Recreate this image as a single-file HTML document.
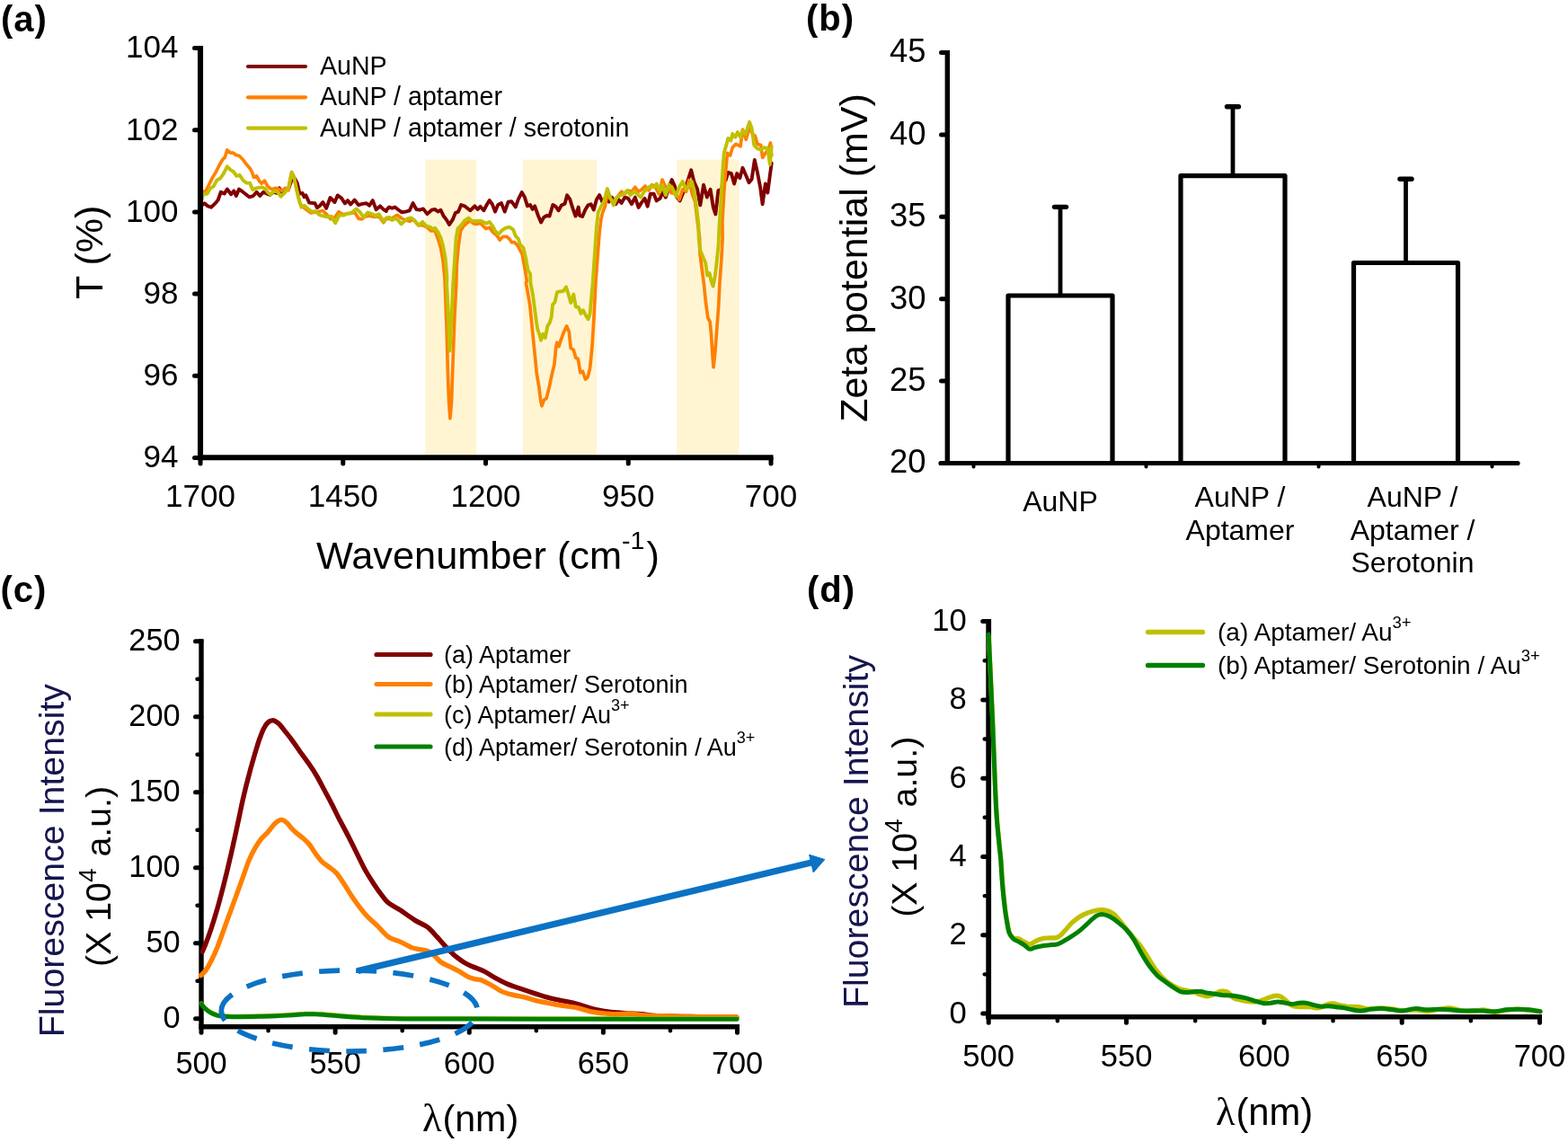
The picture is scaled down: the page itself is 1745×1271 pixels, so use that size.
<!DOCTYPE html>
<html lang="en">
<head>
<meta charset="utf-8">
<title>Figure</title>
<style>
html,body{margin:0;padding:0;background:#fff;}
body{width:1745px;height:1271px;overflow:hidden;}
svg{display:block;font-family:"Liberation Sans", Arial, Helvetica, sans-serif;}
</style>
</head>
<body>
<svg width="1745" height="1271" viewBox="0 0 1745 1271">
<rect x="0" y="0" width="1745" height="1271" fill="#ffffff"/>
<g id="panel-a">
<text x="1" y="34.5" font-size="40" text-anchor="start" font-weight="bold" fill="#000" letter-spacing="1">(a)</text>
<rect x="473.3" y="177.5" width="57.0" height="331" fill="#fff5d3"/>
<rect x="581.8" y="177.5" width="82.2" height="331" fill="#fff5d3"/>
<rect x="753.2" y="177.5" width="69.3" height="331" fill="#fff5d3"/>
<polyline points="223.2,229.4 227.6,226.3 231.3,229.4 235.1,230.7 240.2,225.6 242.7,222.5 245.8,213.7 249.6,215.6 252.8,210.5 257.2,216.2 260.3,212.4 262.9,218.1 266.0,210.5 270.4,213.7 273.6,216.2 277.4,219.3 281.8,218.1 285.6,213.7 289.3,218.1 293.1,213.7 296.9,215.6 300.7,216.8 304.5,213.7 308.3,214.9 310.8,209.3 313.9,213.7 318.3,211.8 321.5,209.3 325.3,197.9 328.4,199.2 330.9,204.2 333.5,215.6 336.6,214.9 338.5,219.3 340.4,217.4 344.2,225.6 350.5,226.3 353.0,231.3 356.2,228.8 359.3,225.0 363.1,231.9 367.5,220.0 372.5,225.0 375.7,217.4 380.1,220.6 383.9,226.3 387.0,223.1 390.2,227.5 394.6,222.5 399.0,228.2 403.4,226.9 407.8,226.3 411.0,228.8 414.8,223.1 418.6,233.2 423.0,229.4 426.8,233.2 429.9,235.1 430.0,233.7 433.2,230.5 436.3,231.8 439.5,230.5 442.6,233.0 447.0,236.2 451.4,235.6 455.8,234.3 459.6,226.1 463.4,233.0 467.2,233.7 471.0,232.4 475.4,238.1 480.4,233.7 484.2,233.0 487.4,235.6 490.5,233.7 493.7,240.6 496.8,244.4 500.0,250.1 503.8,244.4 506.9,236.8 510.1,235.6 513.2,228.0 517.0,229.3 520.1,231.8 523.3,234.3 528.3,229.3 531.5,233.0 534.6,229.9 538.4,234.3 541.6,228.0 544.7,223.0 547.9,227.4 551.0,235.6 554.2,228.0 558.0,226.1 561.7,235.6 565.5,224.8 569.3,224.2 573.7,230.5 576.9,221.7 580.7,214.1 583.8,219.2 587.0,229.3 590.1,228.0 592.6,233.0 595.2,229.3 598.9,240.0 602.1,247.5 605.2,241.9 608.4,240.0 611.5,240.6 615.3,228.0 618.5,229.9 621.6,234.3 624.8,228.6 628.6,226.7 631.1,217.3 634.2,221.7 637.4,231.8 640.5,240.6 643.7,230.5 645.0,239.8 648.2,241.0 651.3,233.5 654.5,228.4 657.6,227.2 660.8,233.5 663.9,222.1 667.1,217.1 670.2,224.6 673.4,220.9 677.8,224.6 680.9,219.6 685.3,227.2 688.5,222.1 691.6,225.9 695.4,219.6 699.2,220.9 703.0,227.2 706.8,219.6 710.6,230.9 713.7,225.9 717.5,220.9 720.6,229.7 723.8,215.8 727.6,215.8 730.7,223.4 734.5,220.9 737.7,213.3 740.8,219.6 744.6,208.3 747.7,200.1 750.9,207.0 753.4,219.6 756.6,223.4 759.7,215.8 762.9,208.3 766.0,199.4 769.2,189.3 772.3,201.9 776.1,210.8 779.3,228.4 783.0,205.7 786.8,219.6 790.6,210.8 793.8,230.9 796.3,238.5 799.4,212.0 802.6,210.8 805.1,203.2 807.6,200.7 810.2,191.9 813.9,193.1 817.1,204.5 820.2,193.1 823.4,198.2 826.5,186.8 830.3,195.6 833.5,203.2 836.6,199.4 839.8,178.0 842.9,191.9 846.1,208.3 848.6,227.2 851.8,204.5 854.3,214.6 856.8,195.6 858.7,181.8" fill="none" stroke="#800000" stroke-width="3.9" stroke-linejoin="round" stroke-linecap="round"/>
<polyline points="223.2,225.6 226.3,213.7 229.5,211.8 232.6,205.5 236.4,197.9 240.2,191.6 244.0,184.0 247.7,177.7 250.3,175.2 252.8,167.0 256.6,170.2 259.7,170.2 262.9,172.7 266.0,173.3 270.4,177.7 274.2,182.8 278.0,187.2 280.5,191.6 282.4,197.3 285.6,196.0 288.7,201.7 291.2,204.2 294.4,201.1 297.5,206.7 300.7,209.9 303.8,210.5 307.0,209.3 310.1,210.5 313.9,212.4 317.7,209.3 320.9,211.8 324.6,191.6 327.2,196.6 329.7,209.3 333.5,225.6 336.0,229.4 341.0,233.2 346.1,237.0 353.6,235.7 359.3,234.5 363.7,238.9 368.1,243.9 372.5,242.0 377.0,235.7 380.7,238.3 385.2,238.3 390.2,237.0 395.2,237.0 399.0,243.3 402.8,243.9 406.6,240.8 411.6,240.1 416.7,241.4 421.7,240.8 426.8,247.7 430.0,243.1 435.0,243.8 442.0,239.3 446.4,242.5 450.8,245.0 455.8,246.3 460.3,244.4 465.3,250.7 470.3,250.7 475.4,253.2 479.8,257.0 484.2,257.0 487.4,265.8 490.5,275.9 493.0,289.8 494.9,308.7 495.2,315.0 497.1,365.4 498.4,415.9 499.6,447.4 500.9,465.7 502.5,447.4 504.0,403.3 505.9,352.8 507.8,315.0 508.2,296.1 510.1,274.6 512.6,257.0 515.7,251.9 519.5,248.2 523.3,245.6 527.1,248.8 530.9,249.4 534.6,248.2 537.8,251.9 540.9,254.5 544.7,253.2 548.5,258.3 552.9,262.0 556.1,267.1 559.9,263.3 563.6,263.3 566.8,265.8 569.3,269.6 572.5,269.6 576.2,273.4 578.8,278.4 581.3,283.5 583.8,297.3 586.3,312.5 585.4,315.0 587.9,328.9 589.8,340.2 592.3,365.4 594.8,390.6 597.3,415.9 599.9,431.0 601.7,446.1 603.0,451.8 605.5,444.9 608.0,443.6 611.2,431.0 614.4,415.9 616.9,405.8 618.8,385.6 620.0,381.2 621.9,385.6 624.4,378.0 627.6,369.2 630.7,362.9 633.3,369.2 635.2,387.5 638.3,389.4 640.8,398.2 643.3,399.5 645.9,414.6 648.4,413.3 651.5,422.2 654.1,419.6 656.6,409.6 659.1,384.3 661.0,352.8 662.9,315.0 667.1,258.7 669.0,243.6 670.8,236.0 673.4,229.7 675.9,215.8 679.0,220.9 682.8,224.6 686.6,219.6 691.6,213.3 695.4,215.8 699.2,212.0 703.0,213.3 706.8,208.3 710.6,213.3 714.3,210.8 718.1,207.0 721.9,212.0 725.7,205.7 729.5,208.3 733.3,215.8 737.0,200.1 740.8,208.3 744.6,209.5 747.1,214.6 752.2,215.8 755.9,222.1 759.7,210.8 763.5,213.3 766.7,200.7 770.4,215.8 773.6,224.6 776.1,246.1 778.6,265.0 778.9,281.4 780.8,296.5 783.3,315.4 785.2,334.3 787.7,353.3 790.2,358.3 791.5,372.2 792.7,391.1 794.0,408.7 795.9,391.1 797.8,365.9 799.7,340.6 800.9,315.4 802.8,290.2 804.1,265.0 803.9,246.1 805.7,214.6 807.6,190.6 809.5,170.4 812.7,173.0 815.2,164.1 819.0,160.3 824.0,162.9 826.5,144.0 830.3,155.3 834.1,141.4 837.3,149.0 840.4,151.5 842.9,160.3 846.7,161.6 848.6,175.5 851.8,170.4 854.9,166.6 857.4,159.1 858.7,173.0" fill="none" stroke="#ff8000" stroke-width="3.7" stroke-linejoin="round" stroke-linecap="round"/>
<polyline points="223.2,225.6 226.3,216.2 230.7,215.6 233.9,209.9 237.7,207.4 241.4,200.4 245.2,198.5 249.0,192.9 252.8,185.3 256.6,189.1 259.7,191.0 263.5,196.0 266.6,194.8 270.4,200.4 274.2,203.6 278.0,203.6 281.1,211.1 285.6,209.3 289.3,208.6 292.5,208.6 295.6,210.5 298.2,214.3 301.3,216.8 304.5,213.0 308.3,213.0 312.7,218.7 317.1,214.3 320.9,209.3 324.6,192.2 327.2,197.9 330.3,211.8 332.8,222.5 335.4,230.7 338.5,228.8 342.9,232.6 347.3,235.7 351.1,235.1 354.9,238.9 358.7,240.1 363.7,241.4 368.8,240.8 373.2,248.3 377.6,239.5 382.6,239.5 386.4,237.6 390.2,237.6 396.5,232.6 400.3,235.7 404.7,242.0 409.1,236.4 414.2,238.3 417.9,240.1 421.7,238.3 426.8,246.4 430.0,242.5 433.8,241.9 436.3,245.0 440.1,243.1 443.2,245.0 446.4,249.4 450.8,245.6 454.0,243.1 457.7,242.5 461.5,245.6 465.9,250.7 470.3,246.9 474.1,251.3 478.5,252.6 481.7,255.1 484.2,253.8 487.4,258.3 490.5,264.6 493.0,273.4 495.6,287.2 497.4,308.7 497.1,315.0 499.0,352.8 500.5,390.6 502.5,352.8 504.3,315.0 505.6,296.1 507.5,265.8 509.4,254.5 513.2,250.7 517.0,245.6 521.4,242.5 524.6,245.6 529.6,246.3 534.0,245.6 537.8,246.9 540.9,248.8 544.7,246.9 548.5,251.9 551.0,257.0 554.8,260.8 558.6,256.4 562.4,253.8 566.8,252.6 571.2,255.7 573.7,262.7 576.9,265.8 578.8,272.1 582.5,275.9 585.1,287.2 587.6,301.1 590.1,304.9 590.4,315.0 592.9,327.6 595.4,346.5 598.0,365.4 600.5,373.0 602.1,378.7 604.3,371.7 606.8,376.1 609.3,362.9 611.8,359.1 613.7,352.8 615.0,339.0 617.5,336.4 620.0,325.1 623.2,324.5 627.0,323.8 630.1,319.4 632.6,327.6 635.2,337.1 638.3,327.6 640.8,341.5 644.0,342.1 646.5,349.0 649.0,345.3 652.2,351.6 654.7,355.3 656.6,349.0 658.5,327.6 659.7,315.0 663.9,252.4 665.8,236.0 669.0,229.7 672.1,224.6 675.9,210.1 679.0,219.6 682.8,228.4 686.6,219.6 691.6,217.1 695.4,214.6 698.0,212.0 701.7,217.1 705.5,213.3 709.3,215.8 713.1,219.6 716.9,213.3 720.6,209.5 724.4,207.0 728.2,208.3 730.7,204.5 734.5,213.3 737.0,205.7 740.8,217.1 744.6,205.7 748.4,209.5 752.2,218.3 755.9,208.3 759.7,201.9 763.5,210.8 767.3,207.0 769.8,201.9 772.3,210.8 774.9,228.4 777.4,249.9 777.6,265.0 778.9,277.6 782.0,285.2 785.2,292.7 787.1,306.6 789.6,304.1 791.5,312.9 793.6,318.6 795.9,306.6 797.8,290.2 799.7,271.3 800.1,258.7 802.0,227.2 803.9,195.6 805.7,170.4 808.3,161.6 810.2,154.0 813.3,156.6 815.2,149.0 818.3,152.8 820.9,147.1 824.0,152.8 826.5,145.2 829.7,149.0 834.1,135.8 836.6,142.7 839.2,161.6 842.9,165.4 846.7,166.6 850.5,164.1 854.3,165.4 856.8,183.0 858.7,162.9" fill="none" stroke="#c0c000" stroke-width="3.9" stroke-linejoin="round" stroke-linecap="round"/>
<line x1="223" y1="51.0" x2="223" y2="512.3" stroke="#000" stroke-width="6.1" stroke-linecap="butt"/>
<line x1="220" y1="509.3" x2="860.5" y2="509.3" stroke="#000" stroke-width="6.1" stroke-linecap="butt"/>
<line x1="216.5" y1="509.5" x2="223" y2="509.5" stroke="#000" stroke-width="5" stroke-linecap="round"/>
<text x="198.5" y="520.3" font-size="35" text-anchor="end" font-weight="normal" fill="#000">94</text>
<line x1="216.5" y1="418.3" x2="223" y2="418.3" stroke="#000" stroke-width="5" stroke-linecap="round"/>
<text x="198.5" y="429.1" font-size="35" text-anchor="end" font-weight="normal" fill="#000">96</text>
<line x1="216.5" y1="327.1" x2="223" y2="327.1" stroke="#000" stroke-width="5" stroke-linecap="round"/>
<text x="198.5" y="337.90000000000003" font-size="35" text-anchor="end" font-weight="normal" fill="#000">98</text>
<line x1="216.5" y1="235.90000000000003" x2="223" y2="235.90000000000003" stroke="#000" stroke-width="5" stroke-linecap="round"/>
<text x="198.5" y="246.70000000000005" font-size="35" text-anchor="end" font-weight="normal" fill="#000">100</text>
<line x1="216.5" y1="144.7" x2="223" y2="144.7" stroke="#000" stroke-width="5" stroke-linecap="round"/>
<text x="198.5" y="155.5" font-size="35" text-anchor="end" font-weight="normal" fill="#000">102</text>
<line x1="216.5" y1="53.5" x2="223" y2="53.5" stroke="#000" stroke-width="5" stroke-linecap="round"/>
<text x="198.5" y="64.3" font-size="35" text-anchor="end" font-weight="normal" fill="#000">104</text>
<line x1="223.0" y1="509.5" x2="223.0" y2="516.0" stroke="#000" stroke-width="5" stroke-linecap="round"/>
<text x="223.0" y="564" font-size="35" text-anchor="middle" font-weight="normal" fill="#000">1700</text>
<line x1="381.75" y1="509.5" x2="381.75" y2="516.0" stroke="#000" stroke-width="5" stroke-linecap="round"/>
<text x="381.75" y="564" font-size="35" text-anchor="middle" font-weight="normal" fill="#000">1450</text>
<line x1="540.5" y1="509.5" x2="540.5" y2="516.0" stroke="#000" stroke-width="5" stroke-linecap="round"/>
<text x="540.5" y="564" font-size="35" text-anchor="middle" font-weight="normal" fill="#000">1200</text>
<line x1="699.25" y1="509.5" x2="699.25" y2="516.0" stroke="#000" stroke-width="5" stroke-linecap="round"/>
<text x="699.25" y="564" font-size="35" text-anchor="middle" font-weight="normal" fill="#000">950</text>
<line x1="858.0" y1="509.5" x2="858.0" y2="516.0" stroke="#000" stroke-width="5" stroke-linecap="round"/>
<text x="858.0" y="564" font-size="35" text-anchor="middle" font-weight="normal" fill="#000">700</text>
<text x="113.7" y="333" font-size="43" text-anchor="start" font-weight="normal" fill="#000" transform="rotate(-90 113.7 333)">T (%)</text>
<text x="352" y="633" font-size="43.3">Wavenumber (cm<tspan dy="-22" font-size="28.5">-1</tspan><tspan dy="22" dx="2">)</tspan></text>
<line x1="276" y1="74.0" x2="340" y2="74.0" stroke="#800000" stroke-width="4.2" stroke-linecap="round"/>
<text x="356" y="83.0" font-size="28.6" text-anchor="start" font-weight="normal" fill="#000">AuNP</text>
<line x1="276" y1="108.3" x2="340" y2="108.3" stroke="#ff8000" stroke-width="4.2" stroke-linecap="round"/>
<text x="356" y="117.3" font-size="28.6" text-anchor="start" font-weight="normal" fill="#000">AuNP / aptamer</text>
<line x1="276" y1="142.6" x2="340" y2="142.6" stroke="#c0c000" stroke-width="4.2" stroke-linecap="round"/>
<text x="356" y="151.6" font-size="28.6" text-anchor="start" font-weight="normal" fill="#000">AuNP / aptamer / serotonin</text>
</g>
<g id="panel-b">
<text x="897" y="34" font-size="40" text-anchor="start" font-weight="bold" fill="#000" letter-spacing="1">(b)</text>
<line x1="1054.3" y1="56.0" x2="1054.3" y2="517.5" stroke="#000" stroke-width="5.4" stroke-linecap="butt"/>
<line x1="1047" y1="515.5" x2="1689" y2="515.5" stroke="#000" stroke-width="5.2" stroke-linecap="round"/>
<line x1="1047.5" y1="515.5" x2="1054" y2="515.5" stroke="#000" stroke-width="5" stroke-linecap="round"/>
<text x="1030.4" y="526.3" font-size="36.4" text-anchor="end" font-weight="normal" fill="#000">20</text>
<line x1="1047.5" y1="424.1" x2="1054" y2="424.1" stroke="#000" stroke-width="5" stroke-linecap="round"/>
<text x="1030.4" y="434.90000000000003" font-size="36.4" text-anchor="end" font-weight="normal" fill="#000">25</text>
<line x1="1047.5" y1="332.7" x2="1054" y2="332.7" stroke="#000" stroke-width="5" stroke-linecap="round"/>
<text x="1030.4" y="343.5" font-size="36.4" text-anchor="end" font-weight="normal" fill="#000">30</text>
<line x1="1047.5" y1="241.3" x2="1054" y2="241.3" stroke="#000" stroke-width="5" stroke-linecap="round"/>
<text x="1030.4" y="252.10000000000002" font-size="36.4" text-anchor="end" font-weight="normal" fill="#000">35</text>
<line x1="1047.5" y1="149.89999999999998" x2="1054" y2="149.89999999999998" stroke="#000" stroke-width="5" stroke-linecap="round"/>
<text x="1030.4" y="160.7" font-size="36.4" text-anchor="end" font-weight="normal" fill="#000">40</text>
<line x1="1047.5" y1="58.5" x2="1054" y2="58.5" stroke="#000" stroke-width="5" stroke-linecap="round"/>
<text x="1030.4" y="69.3" font-size="36.4" text-anchor="end" font-weight="normal" fill="#000">45</text>
<line x1="1083.5" y1="515.5" x2="1083.5" y2="519.5" stroke="#000" stroke-width="4" stroke-linecap="round"/>
<line x1="1275.5" y1="515.5" x2="1275.5" y2="519.5" stroke="#000" stroke-width="4" stroke-linecap="round"/>
<line x1="1467.5" y1="515.5" x2="1467.5" y2="519.5" stroke="#000" stroke-width="4" stroke-linecap="round"/>
<line x1="1660.5" y1="515.5" x2="1660.5" y2="519.5" stroke="#000" stroke-width="4" stroke-linecap="round"/>
<rect x="1122" y="329.0" width="116" height="186.5" fill="#fff" stroke="#000" stroke-width="5.2" stroke-linejoin="round"/>
<line x1="1180" y1="329.044" x2="1180" y2="230.33199999999994" stroke="#000" stroke-width="4.8" stroke-linecap="butt"/>
<line x1="1173.5" y1="230.33199999999994" x2="1186.5" y2="230.33199999999994" stroke="#000" stroke-width="5.4" stroke-linecap="round"/>
<rect x="1314" y="195.6" width="116" height="319.9" fill="#fff" stroke="#000" stroke-width="5.2" stroke-linejoin="round"/>
<line x1="1372" y1="195.60000000000002" x2="1372" y2="118.82399999999996" stroke="#000" stroke-width="4.8" stroke-linecap="butt"/>
<line x1="1365.5" y1="118.82399999999996" x2="1378.5" y2="118.82399999999996" stroke="#000" stroke-width="5.4" stroke-linecap="round"/>
<rect x="1506.5" y="292.5" width="116" height="223.0" fill="#fff" stroke="#000" stroke-width="5.2" stroke-linejoin="round"/>
<line x1="1564.5" y1="292.4839999999999" x2="1564.5" y2="199.25600000000009" stroke="#000" stroke-width="4.8" stroke-linecap="butt"/>
<line x1="1558.0" y1="199.25600000000009" x2="1571.0" y2="199.25600000000009" stroke="#000" stroke-width="5.4" stroke-linecap="round"/>
<text x="1180" y="569" font-size="32" text-anchor="middle" font-weight="normal" fill="#000">AuNP</text>
<text x="1380" y="564" font-size="32" text-anchor="middle" font-weight="normal" fill="#000">AuNP /</text>
<text x="1380" y="600.5" font-size="32" text-anchor="middle" font-weight="normal" fill="#000">Aptamer</text>
<text x="1572" y="564" font-size="32" text-anchor="middle" font-weight="normal" fill="#000">AuNP /</text>
<text x="1572" y="600.5" font-size="32" text-anchor="middle" font-weight="normal" fill="#000">Aptamer /</text>
<text x="1572" y="637" font-size="32" text-anchor="middle" font-weight="normal" fill="#000">Serotonin</text>
<text x="965" y="287" font-size="43" text-anchor="middle" font-weight="normal" fill="#000" transform="rotate(-90 965 287)">Zeta potential (mV)</text>
</g>
<g id="panel-c">
<text x="0.5" y="670" font-size="40" text-anchor="start" font-weight="bold" fill="#000" letter-spacing="1">(c)</text>
<line x1="224" y1="711.3" x2="224" y2="1145.2" stroke="#000" stroke-width="5.4" stroke-linecap="butt"/>
<line x1="221.5" y1="1142.7" x2="823.0" y2="1142.7" stroke="#000" stroke-width="5.4" stroke-linecap="butt"/>
<line x1="217.5" y1="1133.7" x2="224" y2="1133.7" stroke="#000" stroke-width="5" stroke-linecap="round"/>
<text x="200.6" y="1144.3" font-size="34.3" text-anchor="end" font-weight="normal" fill="#000">0</text>
<line x1="219.5" y1="1091.71" x2="224" y2="1091.71" stroke="#000" stroke-width="4.4" stroke-linecap="round"/>
<line x1="217.5" y1="1049.72" x2="224" y2="1049.72" stroke="#000" stroke-width="5" stroke-linecap="round"/>
<text x="200.6" y="1060.32" font-size="34.3" text-anchor="end" font-weight="normal" fill="#000">50</text>
<line x1="219.5" y1="1007.73" x2="224" y2="1007.73" stroke="#000" stroke-width="4.4" stroke-linecap="round"/>
<line x1="217.5" y1="965.74" x2="224" y2="965.74" stroke="#000" stroke-width="5" stroke-linecap="round"/>
<text x="200.6" y="976.34" font-size="34.3" text-anchor="end" font-weight="normal" fill="#000">100</text>
<line x1="219.5" y1="923.75" x2="224" y2="923.75" stroke="#000" stroke-width="4.4" stroke-linecap="round"/>
<line x1="217.5" y1="881.76" x2="224" y2="881.76" stroke="#000" stroke-width="5" stroke-linecap="round"/>
<text x="200.6" y="892.36" font-size="34.3" text-anchor="end" font-weight="normal" fill="#000">150</text>
<line x1="219.5" y1="839.77" x2="224" y2="839.77" stroke="#000" stroke-width="4.4" stroke-linecap="round"/>
<line x1="217.5" y1="797.78" x2="224" y2="797.78" stroke="#000" stroke-width="5" stroke-linecap="round"/>
<text x="200.6" y="808.38" font-size="34.3" text-anchor="end" font-weight="normal" fill="#000">200</text>
<line x1="219.5" y1="755.79" x2="224" y2="755.79" stroke="#000" stroke-width="4.4" stroke-linecap="round"/>
<line x1="217.5" y1="713.8" x2="224" y2="713.8" stroke="#000" stroke-width="5" stroke-linecap="round"/>
<text x="200.6" y="724.4" font-size="34.3" text-anchor="end" font-weight="normal" fill="#000">250</text>
<line x1="224.0" y1="1142.7" x2="224.0" y2="1149.2" stroke="#000" stroke-width="5" stroke-linecap="round"/>
<text x="224.0" y="1195" font-size="34.3" text-anchor="middle" font-weight="normal" fill="#000">500</text>
<line x1="298.5625" y1="1142.7" x2="298.5625" y2="1147.2" stroke="#000" stroke-width="4.4" stroke-linecap="round"/>
<line x1="373.125" y1="1142.7" x2="373.125" y2="1149.2" stroke="#000" stroke-width="5" stroke-linecap="round"/>
<text x="373.125" y="1195" font-size="34.3" text-anchor="middle" font-weight="normal" fill="#000">550</text>
<line x1="447.6875" y1="1142.7" x2="447.6875" y2="1147.2" stroke="#000" stroke-width="4.4" stroke-linecap="round"/>
<line x1="522.25" y1="1142.7" x2="522.25" y2="1149.2" stroke="#000" stroke-width="5" stroke-linecap="round"/>
<text x="522.25" y="1195" font-size="34.3" text-anchor="middle" font-weight="normal" fill="#000">600</text>
<line x1="596.8125" y1="1142.7" x2="596.8125" y2="1147.2" stroke="#000" stroke-width="4.4" stroke-linecap="round"/>
<line x1="671.375" y1="1142.7" x2="671.375" y2="1149.2" stroke="#000" stroke-width="5" stroke-linecap="round"/>
<text x="671.375" y="1195" font-size="34.3" text-anchor="middle" font-weight="normal" fill="#000">650</text>
<line x1="745.9375" y1="1142.7" x2="745.9375" y2="1147.2" stroke="#000" stroke-width="4.4" stroke-linecap="round"/>
<line x1="820.5" y1="1142.7" x2="820.5" y2="1149.2" stroke="#000" stroke-width="5" stroke-linecap="round"/>
<text x="820.5" y="1195" font-size="34.3" text-anchor="middle" font-weight="normal" fill="#000">700</text>
<path d="M225.2,1059.3C225.4,1058.8 225.9,1057.6 226.3,1056.7C226.7,1055.8 227.1,1055.0 227.4,1054.0C227.8,1053.1 228.2,1052.2 228.6,1051.3C228.9,1050.3 229.3,1049.4 229.7,1048.4C230.1,1047.4 230.4,1046.4 230.8,1045.4C231.2,1044.4 231.6,1043.4 231.9,1042.4C232.3,1041.3 232.7,1040.3 233.1,1039.2C233.4,1038.1 233.8,1037.0 234.2,1035.9C234.6,1034.8 234.9,1033.7 235.3,1032.6C235.7,1031.4 236.1,1030.3 236.4,1029.1C236.8,1027.9 237.2,1026.8 237.6,1025.6C237.9,1024.4 238.3,1023.1 238.7,1021.9C239.1,1020.7 239.4,1019.4 239.8,1018.2C240.2,1016.9 240.6,1015.7 240.9,1014.4C241.3,1013.1 241.7,1011.8 242.1,1010.5C242.4,1009.1 242.8,1007.8 243.2,1006.5C243.5,1005.1 243.9,1003.8 244.3,1002.4C244.7,1001.0 245.0,999.7 245.4,998.3C245.8,996.9 246.2,995.5 246.5,994.0C246.9,992.6 247.3,991.2 247.7,989.7C248.0,988.3 248.4,986.8 248.8,985.3C249.2,983.9 249.5,982.4 249.9,980.9C250.3,979.4 250.7,977.9 251.0,976.4C251.4,974.8 251.8,973.3 252.2,971.8C252.5,970.2 252.9,968.7 253.3,967.1C253.7,965.5 254.0,963.9 254.4,962.3C254.8,960.8 255.2,959.2 255.5,957.5C255.9,955.9 256.3,954.3 256.7,952.7C257.0,951.0 257.4,949.4 257.8,947.7C258.2,946.1 258.5,944.4 258.9,942.8C259.3,941.1 259.7,939.4 260.0,937.7C260.4,936.0 260.8,934.3 261.2,932.6C261.5,930.9 261.9,929.2 262.3,927.4C262.7,925.7 263.0,924.0 263.4,922.2C263.8,920.5 264.2,918.7 264.5,916.9C264.9,915.2 265.3,913.4 265.7,911.6C266.0,909.9 266.4,908.1 266.8,906.3C267.1,904.5 267.5,902.7 267.9,901.0C268.3,899.2 268.6,897.5 269.0,895.7C269.4,894.0 269.8,892.3 270.1,890.6C270.5,889.0 270.9,887.3 271.3,885.7C271.6,884.1 272.0,882.5 272.4,880.9C272.8,879.4 273.1,877.8 273.5,876.3C273.9,874.8 274.3,873.3 274.6,871.8C275.0,870.4 275.4,868.9 275.8,867.5C276.1,866.0 276.5,864.6 276.9,863.2C277.3,861.8 277.6,860.4 278.0,859.0C278.4,857.6 278.8,856.2 279.1,854.8C279.5,853.5 279.9,852.1 280.3,850.8C280.6,849.4 281.0,848.1 281.4,846.8C281.8,845.5 282.1,844.2 282.5,842.9C282.9,841.6 283.3,840.3 283.6,839.0C284.0,837.7 284.4,836.5 284.8,835.2C285.1,834.0 285.5,832.7 285.9,831.5C286.3,830.3 286.6,829.1 287.0,828.0C287.4,826.8 287.8,825.6 288.1,824.5C288.5,823.4 288.9,822.3 289.3,821.3C289.6,820.2 290.0,819.2 290.4,818.2C290.8,817.2 291.1,816.3 291.5,815.4C291.9,814.5 292.2,813.6 292.6,812.8C293.0,812.0 293.4,811.2 293.7,810.5C294.1,809.8 294.5,809.1 294.9,808.5C295.2,807.9 295.6,807.3 296.0,806.8C296.4,806.2 296.7,805.8 297.1,805.3C297.5,804.9 297.9,804.5 298.2,804.1C298.6,803.8 299.0,803.5 299.4,803.2C299.7,803.0 300.1,802.7 300.5,802.5C300.9,802.4 301.2,802.2 301.6,802.1C302.0,802.0 302.4,801.9 302.7,801.9C303.1,801.8 303.5,801.8 303.9,801.8C304.2,801.8 303.9,801.4 305.0,802.0C306.0,802.5 308.2,803.4 310.1,805.2C312.0,807.0 313.9,809.6 316.4,812.8C318.9,815.9 322.3,820.1 325.2,824.1C328.2,828.1 330.9,832.3 334.0,836.7C337.2,841.1 341.0,846.0 344.1,850.6C347.3,855.2 350.1,859.6 353.0,864.5C355.8,869.4 358.6,875.0 361.3,880.0C364.0,885.0 366.1,888.7 368.9,894.2C371.7,899.7 375.1,907.0 378.3,913.1C381.5,919.2 384.7,924.9 387.8,931.0C390.9,937.1 394.1,943.6 397.2,949.9C400.3,956.2 403.5,963.1 406.7,968.8C409.9,974.5 413.0,979.2 416.1,983.9C419.2,988.6 422.7,993.5 425.5,997.1C428.3,1000.7 429.3,1002.6 432.6,1005.2C435.9,1007.8 440.4,1009.6 445.2,1012.8C450.0,1015.9 456.6,1021.0 461.6,1024.1C466.6,1027.3 471.5,1028.7 475.5,1031.7C479.5,1034.6 482.2,1038.2 485.6,1041.8C488.9,1045.3 492.3,1049.5 495.6,1053.1C499.0,1056.7 502.4,1060.3 505.7,1063.2C509.1,1066.1 512.5,1068.7 515.8,1070.8C519.2,1072.9 522.1,1074.1 525.9,1075.8C529.7,1077.5 534.3,1078.8 538.5,1080.9C542.7,1083.0 546.9,1086.1 551.1,1088.4C555.3,1090.7 559.3,1092.8 563.7,1094.7C568.1,1096.6 572.1,1097.9 577.6,1099.8C583.1,1101.7 590.2,1104.1 596.5,1106.1C602.8,1108.1 608.2,1110.0 615.4,1111.7C622.7,1113.5 632.8,1115.0 640.0,1116.8C647.2,1118.6 653.4,1121.3 658.9,1122.7C664.3,1124.1 668.1,1124.6 672.7,1125.3C677.3,1126.0 681.9,1126.6 686.6,1127.0C691.2,1127.5 695.8,1127.6 700.4,1127.9C705.0,1128.2 709.6,1128.3 714.3,1128.8C718.9,1129.2 723.2,1130.1 728.1,1130.5C733.0,1130.9 738.2,1130.9 743.7,1131.0C749.2,1131.2 755.2,1131.3 761.0,1131.4C766.8,1131.5 772.5,1131.6 778.3,1131.7C784.1,1131.8 788.7,1131.8 795.6,1131.9C802.5,1132.0 815.8,1132.2 819.8,1132.2" fill="none" stroke="#800000" stroke-width="5.4" stroke-linejoin="round" stroke-linecap="round"/>
<path d="M223.5,1085.6C224.3,1084.7 226.6,1083.3 228.7,1080.4C230.7,1077.5 233.3,1072.9 235.6,1068.3C237.9,1063.7 240.2,1058.5 242.5,1052.7C244.8,1046.9 247.1,1040.0 249.4,1033.7C251.7,1027.3 254.0,1021.0 256.4,1014.6C258.7,1008.3 261.0,1001.9 263.3,995.6C265.6,989.2 267.9,982.9 270.2,976.6C272.5,970.2 274.8,963.0 277.1,957.5C279.4,952.0 281.7,947.7 284.0,943.7C286.4,939.6 288.7,936.2 291.0,933.3C293.3,930.4 295.6,928.9 297.9,926.4C300.2,923.8 302.8,919.9 304.8,917.7C306.8,915.5 308.4,914.2 310.0,913.4C311.6,912.5 312.8,912.1 314.3,912.5C315.9,912.9 317.9,914.5 319.5,916.0C321.1,917.4 322.3,919.4 323.9,921.2C325.4,922.9 326.7,924.3 329.1,926.4C331.4,928.4 335.1,931.0 337.7,933.3C340.3,935.6 342.3,937.3 344.6,940.2C346.9,943.1 349.2,947.4 351.6,950.6C353.9,953.8 356.2,956.9 358.5,959.2C360.8,961.5 362.8,962.4 365.4,964.4C368.0,966.5 371.2,968.2 374.1,971.4C376.9,974.5 379.8,979.1 382.7,983.5C385.6,987.8 388.5,993.0 391.4,997.3C394.3,1001.6 397.1,1005.7 400.0,1009.4C402.9,1013.2 405.3,1016.3 408.7,1019.8C412.0,1023.3 416.0,1026.6 420.0,1030.4C424.0,1034.3 428.4,1040.1 432.6,1043.0C436.8,1046.0 441.0,1046.2 445.2,1048.1C449.4,1050.0 454.5,1053.0 457.8,1054.4C461.2,1055.7 462.4,1055.6 465.4,1056.3C468.3,1056.9 472.5,1057.0 475.5,1058.2C478.4,1059.3 480.5,1061.1 483.0,1063.2C485.6,1065.3 487.7,1068.7 490.6,1070.8C493.5,1072.9 497.3,1074.1 500.7,1075.8C504.0,1077.5 507.4,1079.0 510.8,1080.9C514.1,1082.7 517.9,1085.7 520.9,1087.2C523.8,1088.6 525.9,1089.1 528.4,1089.7C530.9,1090.3 533.0,1089.9 536.0,1090.9C538.9,1092.0 542.3,1093.9 546.1,1096.0C549.9,1098.1 554.5,1101.7 558.7,1103.6C562.9,1105.4 567.1,1106.3 571.3,1107.3C575.5,1108.4 579.7,1108.8 583.9,1109.9C588.1,1110.9 592.3,1112.6 596.5,1113.6C600.7,1114.7 604.9,1115.3 609.1,1116.2C613.3,1117.0 616.6,1117.8 621.7,1118.7C626.9,1119.5 633.8,1120.0 640.0,1121.2C646.2,1122.4 653.4,1125.1 658.9,1126.2C664.3,1127.3 668.1,1127.5 672.7,1127.9C677.3,1128.3 681.9,1128.8 686.6,1128.8C691.2,1128.8 695.8,1127.8 700.4,1127.9C705.0,1128.1 709.6,1129.2 714.3,1129.6C718.9,1130.1 723.2,1130.3 728.1,1130.5C733.0,1130.7 738.2,1130.9 743.7,1131.0C749.2,1131.2 755.2,1131.3 761.0,1131.4C766.8,1131.5 772.5,1131.7 778.3,1131.7C784.1,1131.8 788.7,1131.7 795.6,1131.7C802.5,1131.7 815.8,1131.9 819.8,1131.9" fill="none" stroke="#ff8000" stroke-width="5.4" stroke-linejoin="round" stroke-linecap="round"/>
<path d="M224.0,1116.7C224.6,1117.5 226.1,1119.6 227.7,1121.2C229.4,1122.7 231.7,1124.8 234.0,1126.2C236.4,1127.6 238.9,1128.6 241.6,1129.4C244.3,1130.1 246.9,1130.3 250.4,1130.6C254.0,1130.9 256.7,1131.0 263.0,1131.0C269.3,1131.0 280.9,1130.8 288.3,1130.6C295.6,1130.4 300.9,1130.3 307.2,1130.0C313.5,1129.7 320.8,1129.3 326.1,1129.0C331.3,1128.7 334.5,1128.2 338.7,1128.1C342.9,1127.9 347.1,1127.9 351.3,1128.1C355.5,1128.2 359.7,1128.7 363.9,1129.0C368.1,1129.3 372.3,1129.6 376.5,1130.0C380.7,1130.3 384.9,1130.7 389.1,1131.0C393.3,1131.3 396.6,1131.6 401.7,1131.9C406.9,1132.1 411.9,1132.3 420.0,1132.5C428.0,1132.7 433.3,1133.2 450.0,1133.3C466.7,1133.4 495.0,1133.2 520.0,1133.3C545.0,1133.3 570.0,1133.5 600.0,1133.6C630.0,1133.6 673.3,1133.6 700.0,1133.6C726.7,1133.6 740.0,1133.6 760.0,1133.6C780.0,1133.6 810.0,1133.6 820.0,1133.6" fill="none" stroke="#c0c000" stroke-width="4.6" stroke-linejoin="round" stroke-linecap="round"/>
<path d="M224.0,1117.4C224.6,1118.2 226.1,1120.3 227.7,1121.9C229.4,1123.4 231.7,1125.5 234.0,1126.9C236.4,1128.3 238.9,1129.3 241.6,1130.1C244.3,1130.8 246.9,1131.0 250.4,1131.3C254.0,1131.6 256.7,1131.7 263.0,1131.7C269.3,1131.7 280.9,1131.5 288.3,1131.3C295.6,1131.1 300.9,1131.0 307.2,1130.7C313.5,1130.4 320.8,1130.0 326.1,1129.7C331.3,1129.4 334.5,1128.9 338.7,1128.8C342.9,1128.6 347.1,1128.6 351.3,1128.8C355.5,1128.9 359.7,1129.4 363.9,1129.7C368.1,1130.0 372.3,1130.3 376.5,1130.7C380.7,1131.0 384.9,1131.4 389.1,1131.7C393.3,1132.0 396.6,1132.3 401.7,1132.6C406.9,1132.8 411.9,1133.0 420.0,1133.2C428.0,1133.4 433.3,1133.9 450.0,1134.0C466.7,1134.1 495.0,1134.0 520.0,1134.0C545.0,1134.0 570.0,1134.2 600.0,1134.3C630.0,1134.3 673.3,1134.3 700.0,1134.3C726.7,1134.3 740.0,1134.3 760.0,1134.3C780.0,1134.3 810.0,1134.3 820.0,1134.3" fill="none" stroke="#008000" stroke-width="5" stroke-linejoin="round" stroke-linecap="round"/>
<text x="71" y="957.6" font-size="39.3" text-anchor="middle" font-weight="normal" fill="#15154f" transform="rotate(-90 71 957.6)">Fluorescence Intensity</text>
<text x="123" y="975.5" font-size="39.3" text-anchor="middle" transform="rotate(-90 123 975.5)">(X 10<tspan dy="-16" font-size="28">4</tspan><tspan dy="16" dx="2"> a.u.)</tspan></text>
<text x="470" y="1258.5" font-size="41.3"><tspan font-family='"Liberation Serif", "DejaVu Serif", serif' font-size="44.5">λ</tspan><tspan dx="0.8">(nm)</tspan></text>
<line x1="419" y1="728.5" x2="479" y2="728.5" stroke="#800000" stroke-width="5.2" stroke-linecap="round"/>
<text x="494" y="738.0" font-size="27" text-anchor="start" font-weight="normal" fill="#000">(a) Aptamer</text>
<line x1="419" y1="761.5" x2="479" y2="761.5" stroke="#ff8000" stroke-width="5.2" stroke-linecap="round"/>
<text x="494" y="771.0" font-size="27" text-anchor="start" font-weight="normal" fill="#000">(b) Aptamer/ Serotonin</text>
<line x1="419" y1="795" x2="479" y2="795" stroke="#c0c000" stroke-width="5.2" stroke-linecap="round"/>
<text x="494" y="804.5" font-size="27" text-anchor="start" font-weight="normal" fill="#000">(c) Aptamer/ Au<tspan dy="-13.5" font-size="18">3+</tspan></text>
<line x1="419" y1="831" x2="479" y2="831" stroke="#008000" stroke-width="5.2" stroke-linecap="round"/>
<text x="494" y="840.5" font-size="27" text-anchor="start" font-weight="normal" fill="#000">(d) Aptamer/ Serotonin / Au<tspan dy="-13.5" font-size="18">3+</tspan></text>
<path d="M246.3,1125 A142.6,45 0 1 1 531.5,1125 A142.6,45 0 1 1 246.3,1125" fill="none" stroke="#0b72c4" stroke-width="5.7" stroke-dasharray="22.8 18.4"/>
<line x1="398.5" y1="1080.6" x2="905" y2="959.6" stroke="#0b72c4" stroke-width="7.2" stroke-linecap="butt"/>
<polygon points="917.8,956.6 900.6,951.3 905.2,971" fill="#0b72c4" stroke="#0b72c4" stroke-width="1" stroke-linejoin="round"/>
</g>
<g id="panel-d">
<text x="898" y="670" font-size="40" text-anchor="start" font-weight="bold" fill="#000" letter-spacing="1">(d)</text>
<line x1="1100.2" y1="689.1" x2="1100.2" y2="1134.3" stroke="#000" stroke-width="5.8" stroke-linecap="butt"/>
<line x1="1093.7" y1="1128.0" x2="1100.2" y2="1128.0" stroke="#000" stroke-width="5" stroke-linecap="round"/>
<text x="1075.7" y="1138.6" font-size="34.6" text-anchor="end" font-weight="normal" fill="#000">0</text>
<line x1="1095.7" y1="1084.36" x2="1100.2" y2="1084.36" stroke="#000" stroke-width="4.4" stroke-linecap="round"/>
<line x1="1093.7" y1="1040.72" x2="1100.2" y2="1040.72" stroke="#000" stroke-width="5" stroke-linecap="round"/>
<text x="1075.7" y="1051.32" font-size="34.6" text-anchor="end" font-weight="normal" fill="#000">2</text>
<line x1="1095.7" y1="997.08" x2="1100.2" y2="997.08" stroke="#000" stroke-width="4.4" stroke-linecap="round"/>
<line x1="1093.7" y1="953.44" x2="1100.2" y2="953.44" stroke="#000" stroke-width="5" stroke-linecap="round"/>
<text x="1075.7" y="964.0400000000001" font-size="34.6" text-anchor="end" font-weight="normal" fill="#000">4</text>
<line x1="1095.7" y1="909.8" x2="1100.2" y2="909.8" stroke="#000" stroke-width="4.4" stroke-linecap="round"/>
<line x1="1093.7" y1="866.1600000000001" x2="1100.2" y2="866.1600000000001" stroke="#000" stroke-width="5" stroke-linecap="round"/>
<text x="1075.7" y="876.7600000000001" font-size="34.6" text-anchor="end" font-weight="normal" fill="#000">6</text>
<line x1="1095.7" y1="822.52" x2="1100.2" y2="822.52" stroke="#000" stroke-width="4.4" stroke-linecap="round"/>
<line x1="1093.7" y1="778.88" x2="1100.2" y2="778.88" stroke="#000" stroke-width="5" stroke-linecap="round"/>
<text x="1075.7" y="789.48" font-size="34.6" text-anchor="end" font-weight="normal" fill="#000">8</text>
<line x1="1095.7" y1="735.24" x2="1100.2" y2="735.24" stroke="#000" stroke-width="4.4" stroke-linecap="round"/>
<line x1="1093.7" y1="691.6" x2="1100.2" y2="691.6" stroke="#000" stroke-width="5" stroke-linecap="round"/>
<text x="1075.7" y="702.2" font-size="34.6" text-anchor="end" font-weight="normal" fill="#000">10</text>
<path d="M1100.4,709.0C1101.1,724.2 1103.2,768.2 1104.6,800.0C1106.0,831.8 1107.4,876.7 1108.7,900.0C1110.0,923.3 1111.3,930.4 1112.2,940.0C1113.1,949.6 1113.4,950.1 1113.9,957.3C1114.5,964.5 1114.9,974.6 1115.7,983.3C1116.4,991.9 1117.4,1002.1 1118.3,1009.2C1119.1,1016.4 1120.0,1021.4 1120.9,1026.2C1121.7,1031.0 1122.3,1035.2 1123.4,1038.1C1124.6,1041.1 1125.9,1042.8 1127.6,1043.9C1129.3,1045.0 1131.6,1044.0 1133.7,1044.7C1135.7,1045.4 1137.6,1047.2 1139.7,1048.2C1141.9,1049.2 1144.5,1050.9 1146.6,1050.8C1148.8,1050.6 1150.5,1048.3 1152.7,1047.3C1154.9,1046.3 1157.3,1045.3 1159.6,1044.7C1161.9,1044.1 1164.2,1044.0 1166.6,1043.9C1168.9,1043.7 1171.5,1044.1 1173.5,1043.9C1175.5,1043.6 1176.6,1043.6 1178.7,1042.1C1180.7,1040.7 1183.3,1037.7 1185.6,1035.2C1187.9,1032.8 1189.9,1029.9 1192.5,1027.4C1195.1,1025.0 1198.3,1022.4 1201.2,1020.5C1204.1,1018.6 1206.9,1017.3 1209.8,1016.2C1212.7,1015.0 1215.9,1014.1 1218.5,1013.6C1221.1,1013.0 1223.1,1012.7 1225.4,1012.7C1227.7,1012.7 1230.0,1012.8 1232.3,1013.6C1234.6,1014.3 1236.9,1015.2 1239.3,1017.0C1241.6,1018.9 1243.9,1022.1 1246.2,1024.8C1248.5,1027.6 1250.5,1030.3 1253.1,1033.5C1255.7,1036.6 1258.9,1040.4 1261.8,1043.9C1264.6,1047.3 1267.5,1050.2 1270.4,1054.2C1273.3,1058.3 1276.2,1063.6 1279.1,1068.1C1282.0,1072.6 1284.8,1077.3 1287.7,1081.1C1290.6,1084.8 1293.5,1088.0 1296.4,1090.6C1299.3,1093.2 1302.1,1094.9 1305.0,1096.7C1307.9,1098.4 1310.8,1100.0 1313.7,1101.0C1316.6,1102.0 1319.7,1102.1 1322.3,1102.7C1324.9,1103.3 1327.0,1103.7 1329.3,1104.4C1331.6,1105.2 1333.9,1106.3 1336.2,1107.0C1338.5,1107.8 1340.8,1108.8 1343.1,1108.8C1345.4,1108.8 1347.7,1107.9 1350.0,1107.0C1352.3,1106.2 1355.3,1104.2 1357.0,1103.6C1358.6,1102.9 1358.4,1102.9 1360.0,1103.0C1361.6,1103.2 1364.2,1103.0 1366.3,1104.3C1368.4,1105.6 1370.5,1109.2 1372.6,1110.6C1374.7,1112.0 1376.4,1111.9 1378.9,1112.5C1381.4,1113.1 1384.6,1114.0 1387.7,1114.4C1390.9,1114.8 1394.7,1115.3 1397.8,1115.0C1401.0,1114.7 1404.1,1113.3 1406.6,1112.5C1409.2,1111.7 1410.6,1110.7 1413.0,1110.0C1415.3,1109.2 1418.4,1108.2 1420.5,1108.1C1422.6,1108.0 1423.9,1108.5 1425.6,1109.3C1427.2,1110.2 1428.5,1111.4 1430.6,1113.1C1432.7,1114.8 1435.2,1118.2 1438.2,1119.4C1441.1,1120.7 1444.9,1120.5 1448.3,1120.7C1451.6,1120.9 1455.2,1120.5 1458.3,1120.7C1461.5,1120.9 1464.2,1122.4 1467.2,1121.9C1470.1,1121.5 1473.3,1119.0 1476.0,1118.2C1478.7,1117.3 1481.0,1116.8 1483.6,1116.9C1486.1,1117.0 1488.6,1118.3 1491.1,1118.8C1493.6,1119.3 1495.3,1119.7 1498.7,1120.1C1502.0,1120.4 1507.3,1120.2 1511.3,1120.7C1515.3,1121.2 1520.3,1122.9 1522.6,1123.2C1524.9,1123.5 1522.5,1122.8 1525.0,1122.6C1527.5,1122.4 1533.4,1121.8 1537.6,1121.9C1541.8,1122.1 1546.4,1122.7 1550.2,1123.2C1554.0,1123.7 1556.1,1124.6 1560.3,1124.7C1564.5,1124.8 1570.8,1123.7 1575.4,1123.8C1580.1,1124.0 1583.8,1125.8 1588.0,1125.7C1592.2,1125.7 1596.4,1124.1 1600.6,1123.5C1604.8,1122.8 1609.0,1121.8 1613.3,1121.9C1617.5,1122.1 1621.7,1123.9 1625.9,1124.5C1630.1,1125.1 1634.3,1125.6 1638.5,1125.5C1642.7,1125.4 1646.9,1123.7 1651.1,1123.8C1655.3,1124.0 1659.5,1126.3 1663.7,1126.4C1667.9,1126.4 1672.1,1124.7 1676.3,1124.2C1680.5,1123.7 1684.7,1123.2 1688.9,1123.2C1693.1,1123.2 1697.3,1123.8 1701.5,1124.2C1705.7,1124.6 1712.0,1125.5 1714.1,1125.7" fill="none" stroke="#c0c000" stroke-width="5.2" stroke-linejoin="round" stroke-linecap="round"/>
<path d="M1100.2,706.0C1100.9,721.7 1103.1,767.7 1104.5,800.0C1105.9,832.3 1107.3,876.7 1108.6,900.0C1109.9,923.3 1111.2,930.4 1112.0,940.0C1112.9,949.6 1113.2,950.1 1113.8,957.3C1114.3,964.5 1114.8,974.6 1115.5,983.3C1116.2,991.9 1117.2,1002.0 1118.1,1009.2C1118.9,1016.5 1119.8,1021.6 1120.7,1026.6C1121.5,1031.5 1122.1,1035.6 1123.3,1038.7C1124.4,1041.7 1125.9,1043.1 1127.6,1044.7C1129.3,1046.3 1131.6,1047.0 1133.7,1048.2C1135.7,1049.3 1137.7,1050.3 1139.7,1051.6C1141.7,1053.0 1143.6,1055.9 1145.8,1056.3C1147.9,1056.8 1150.1,1054.9 1152.7,1054.2C1155.3,1053.6 1158.5,1052.9 1161.4,1052.5C1164.2,1052.1 1167.4,1051.9 1170.0,1051.6C1172.6,1051.4 1174.6,1051.5 1176.9,1050.8C1179.2,1050.1 1181.3,1048.8 1183.9,1047.3C1186.5,1045.9 1189.6,1044.0 1192.5,1042.1C1195.4,1040.3 1198.3,1038.4 1201.2,1036.1C1204.1,1033.8 1206.9,1030.9 1209.8,1028.3C1212.7,1025.7 1216.2,1022.2 1218.5,1020.5C1220.8,1018.8 1221.9,1018.3 1223.7,1017.9C1225.4,1017.5 1226.8,1017.5 1228.9,1017.9C1230.9,1018.3 1233.2,1019.0 1235.8,1020.5C1238.4,1021.9 1241.6,1024.2 1244.4,1026.6C1247.3,1028.9 1250.2,1031.2 1253.1,1034.3C1256.0,1037.5 1258.9,1041.1 1261.8,1045.6C1264.6,1050.1 1267.5,1056.3 1270.4,1061.2C1273.3,1066.1 1276.2,1071.0 1279.1,1075.0C1282.0,1079.1 1284.8,1082.5 1287.7,1085.4C1290.6,1088.3 1293.5,1090.2 1296.4,1092.3C1299.3,1094.5 1302.1,1096.5 1305.0,1098.4C1307.9,1100.3 1310.8,1102.6 1313.7,1103.6C1316.6,1104.6 1319.7,1104.4 1322.3,1104.4C1324.9,1104.4 1327.0,1103.7 1329.3,1103.6C1331.6,1103.4 1333.6,1103.3 1336.2,1103.6C1338.8,1103.9 1342.0,1104.8 1344.8,1105.3C1347.7,1105.8 1351.0,1106.2 1353.5,1106.5C1356.0,1106.9 1357.2,1107.2 1360.0,1107.4C1362.8,1107.7 1366.9,1107.8 1370.1,1108.1C1373.2,1108.4 1376.0,1108.8 1378.9,1109.3C1381.9,1109.9 1384.6,1110.4 1387.7,1111.2C1390.9,1112.1 1394.7,1113.5 1397.8,1114.4C1401.0,1115.3 1403.9,1116.3 1406.6,1116.7C1409.4,1117.0 1411.7,1116.5 1414.2,1116.3C1416.7,1116.0 1419.0,1115.0 1421.8,1115.0C1424.5,1115.0 1427.9,1115.9 1430.6,1116.3C1433.3,1116.7 1435.6,1117.5 1438.2,1117.5C1440.7,1117.5 1443.2,1116.5 1445.7,1116.3C1448.3,1116.1 1450.8,1116.0 1453.3,1116.3C1455.8,1116.6 1458.1,1117.5 1460.9,1118.2C1463.6,1118.8 1466.7,1119.8 1469.7,1120.1C1472.6,1120.3 1475.6,1119.6 1478.5,1119.7C1481.4,1119.8 1484.4,1120.3 1487.3,1120.7C1490.3,1121.1 1493.2,1121.4 1496.2,1121.9C1499.1,1122.5 1502.0,1123.3 1505.0,1123.8C1507.9,1124.4 1510.9,1125.1 1513.8,1125.1C1516.7,1125.1 1520.8,1124.2 1522.6,1123.8C1524.5,1123.5 1522.5,1123.4 1525.0,1123.2C1527.5,1123.0 1533.4,1122.5 1537.6,1122.6C1541.8,1122.7 1546.4,1123.4 1550.2,1123.8C1554.0,1124.3 1556.1,1125.3 1560.3,1125.1C1564.5,1124.9 1570.8,1122.8 1575.4,1122.6C1580.1,1122.4 1583.8,1123.7 1588.0,1123.8C1592.2,1123.9 1596.4,1123.2 1600.6,1123.2C1604.8,1123.2 1609.0,1123.5 1613.3,1123.8C1617.5,1124.2 1621.7,1125.0 1625.9,1125.1C1630.1,1125.2 1634.3,1124.7 1638.5,1124.7C1642.7,1124.7 1646.9,1124.9 1651.1,1125.1C1655.3,1125.3 1659.5,1125.9 1663.7,1125.7C1667.9,1125.5 1672.1,1124.3 1676.3,1123.8C1680.5,1123.4 1684.7,1123.2 1688.9,1123.2C1693.1,1123.2 1697.3,1123.4 1701.5,1123.8C1705.7,1124.3 1712.0,1125.4 1714.1,1125.7" fill="none" stroke="#008000" stroke-width="5.0" stroke-linejoin="round" stroke-linecap="round"/>
<line x1="1097.7" y1="1131.8" x2="1716.0" y2="1131.8" stroke="#000" stroke-width="5.6" stroke-linecap="butt"/>
<line x1="1100.2" y1="1131.8" x2="1100.2" y2="1138.3" stroke="#000" stroke-width="5" stroke-linecap="round"/>
<text x="1100.2" y="1186.6" font-size="34.6" text-anchor="middle" font-weight="normal" fill="#000">500</text>
<line x1="1176.8625" y1="1131.8" x2="1176.8625" y2="1136.3" stroke="#000" stroke-width="4.4" stroke-linecap="round"/>
<line x1="1253.525" y1="1131.8" x2="1253.525" y2="1138.3" stroke="#000" stroke-width="5" stroke-linecap="round"/>
<text x="1253.525" y="1186.6" font-size="34.6" text-anchor="middle" font-weight="normal" fill="#000">550</text>
<line x1="1330.1875" y1="1131.8" x2="1330.1875" y2="1136.3" stroke="#000" stroke-width="4.4" stroke-linecap="round"/>
<line x1="1406.85" y1="1131.8" x2="1406.85" y2="1138.3" stroke="#000" stroke-width="5" stroke-linecap="round"/>
<text x="1406.85" y="1186.6" font-size="34.6" text-anchor="middle" font-weight="normal" fill="#000">600</text>
<line x1="1483.5125" y1="1131.8" x2="1483.5125" y2="1136.3" stroke="#000" stroke-width="4.4" stroke-linecap="round"/>
<line x1="1560.175" y1="1131.8" x2="1560.175" y2="1138.3" stroke="#000" stroke-width="5" stroke-linecap="round"/>
<text x="1560.175" y="1186.6" font-size="34.6" text-anchor="middle" font-weight="normal" fill="#000">650</text>
<line x1="1636.8375" y1="1131.8" x2="1636.8375" y2="1136.3" stroke="#000" stroke-width="4.4" stroke-linecap="round"/>
<line x1="1713.5" y1="1131.8" x2="1713.5" y2="1138.3" stroke="#000" stroke-width="5" stroke-linecap="round"/>
<text x="1713.5" y="1186.6" font-size="34.6" text-anchor="middle" font-weight="normal" fill="#000">700</text>
<text x="966" y="925.4" font-size="39.3" text-anchor="middle" font-weight="normal" fill="#15154f" transform="rotate(-90 966 925.4)">Fluorescence Intensity</text>
<text x="1020.4" y="920.3" font-size="39.3" text-anchor="middle" transform="rotate(-90 1020.4 920.3)">(X 10<tspan dy="-16" font-size="28">4</tspan><tspan dy="16" dx="2"> a.u.)</tspan></text>
<text x="1353" y="1251.7" font-size="41.8"><tspan font-family='"Liberation Serif", "DejaVu Serif", serif' font-size="44.5">λ</tspan><tspan dx="0.8">(nm)</tspan></text>
<line x1="1277.5" y1="703.5" x2="1338.5" y2="703.5" stroke="#c0c000" stroke-width="5.3" stroke-linecap="round"/>
<text x="1355" y="712.7" font-size="28" text-anchor="start" font-weight="normal" fill="#000">(a) Aptamer/ Au<tspan dy="-13.5" font-size="18.5">3+</tspan></text>
<line x1="1277.5" y1="740.5" x2="1338.5" y2="740.5" stroke="#008000" stroke-width="5.3" stroke-linecap="round"/>
<text x="1355" y="749.7" font-size="28" text-anchor="start" font-weight="normal" fill="#000">(b) Aptamer/ Serotonin / Au<tspan dy="-13.5" font-size="18.5">3+</tspan></text>
</g>
</svg>
</body>
</html>
